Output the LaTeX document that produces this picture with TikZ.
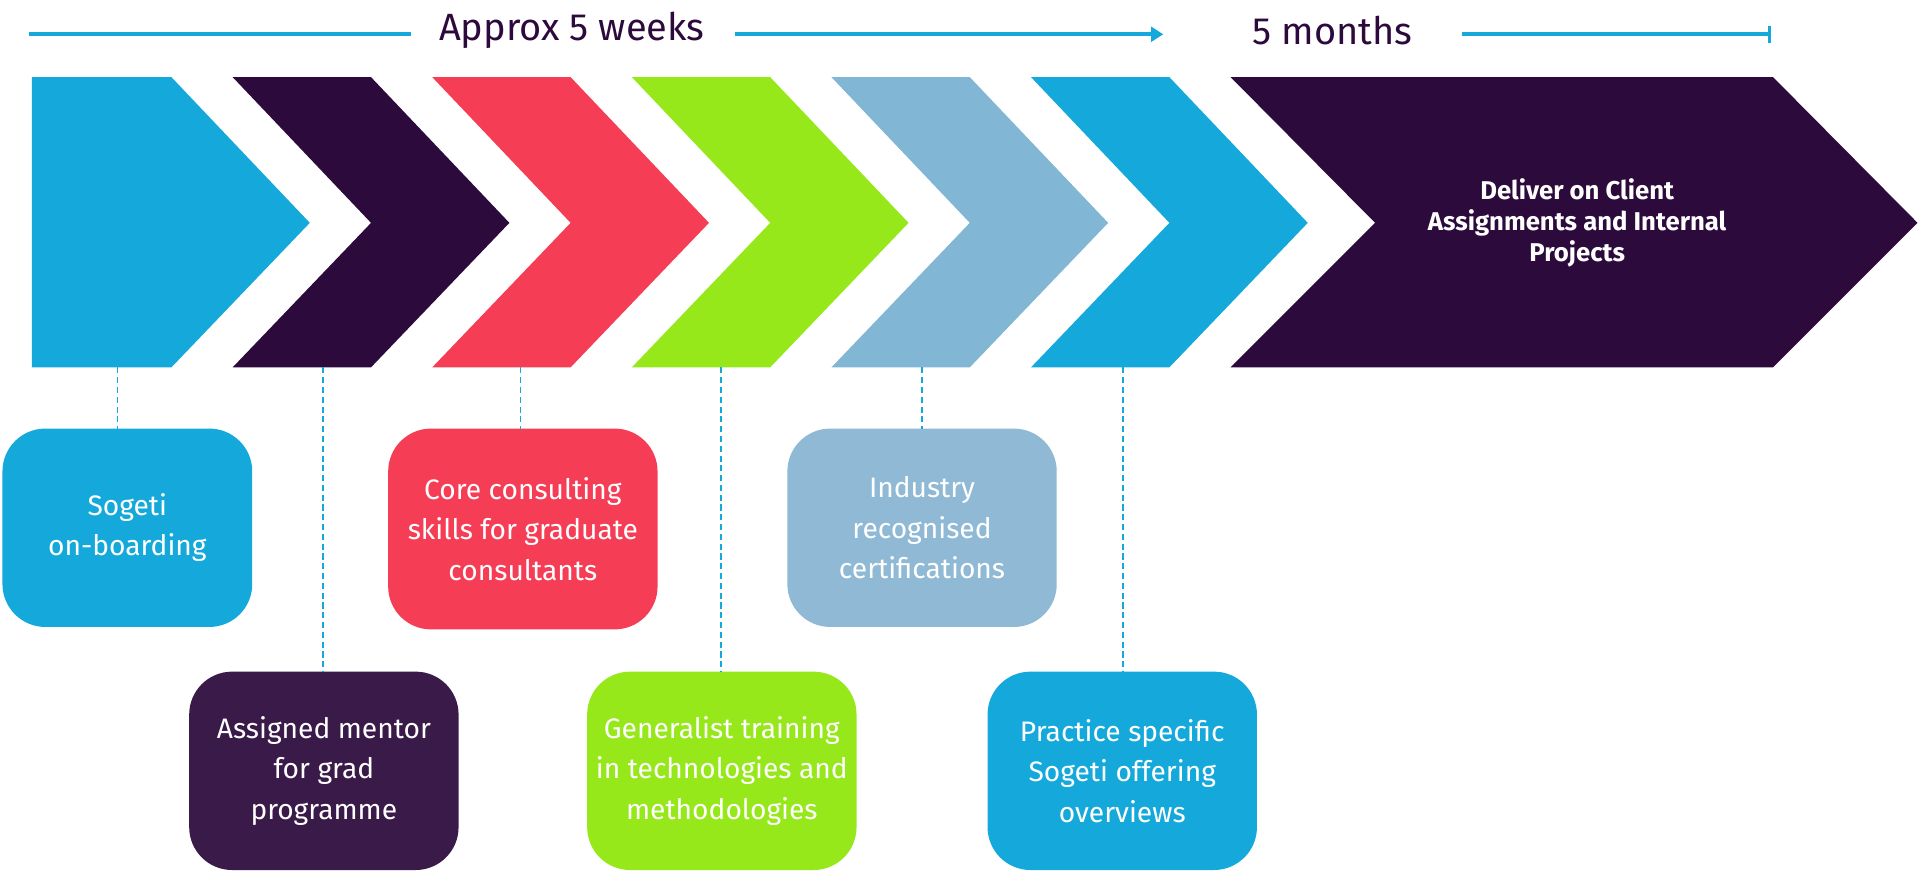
\documentclass[tikz,border=0pt]{standalone}
\usepackage{fontspec}
\setmainfont{Fira Sans}
\usetikzlibrary{arrows.meta}
\definecolor{cy}{HTML}{14A9DA}
\definecolor{dp}{HTML}{2D0A3C}
\definecolor{rd}{HTML}{F53D55}
\definecolor{lm}{HTML}{97E81A}
\definecolor{lb}{HTML}{82B6D5}
\definecolor{lb2}{HTML}{8FB9D4}
\definecolor{dp2}{HTML}{3A1A48}
\begin{document}
\begin{tikzpicture}[x=1pt,y=-1pt,
  box/.style={rounded corners=35pt,minimum width=220pt,minimum height=162pt,align=center,text=white,font=\fontsize{23}{33}\selectfont,inner sep=0pt},
  dl/.style={cy,dash pattern=on 5pt off 3pt,line width=1.3pt},
  tl/.style={cy,line width=3pt}]
\useasboundingbox (0,0) rectangle (1568,728);
% chevrons
\fill[cy] (26,63)--(140,63)--(253,182)--(140,300)--(26,300)--cycle;
\foreach \i/\c in {0/dp,1/rd,2/lm,3/lb,4/cy}{
  \fill[\c,xshift=\i*163pt] (190,63)--(303,63)--(416,182)--(303,300)--(190,300)--(303,182)--cycle;}
\fill[dp] (1005,63)--(1448,63)--(1566,182)--(1448,300)--(1005,300)--(1123,182)--cycle;
\node[text=white,font=\bfseries\fontsize{21}{25}\selectfont,align=center] (d) at (1288,182) {Deliver on Client\\Assignments and Internal\\Projects};
% top
\node[text=dp,font=\fontsize{31}{34}\selectfont] (aw) at (467,25) {Approx 5 weeks};
\node[text=dp,font=\fontsize{31}{34}\selectfont] (fm) at (1088,25) {5 months};
\coordinate (a0) at (24,28); \coordinate (a1) at (336,28);
\coordinate (b0) at (600,28); \coordinate (b1) at (950,28);
\coordinate (c0) at (1194,28); \coordinate (c1) at (1446,28);
\draw[tl] (a0)--(a1);
\draw[tl,-{Triangle[length=10pt,width=12pt]}] (b0)--(b1);
\draw[tl,-{Bar[width=14pt,line width=2pt]}] (c0)--(c1);
% boxes
\node[box,fill=cy,minimum width=204pt] (b1x) at (104,431) {Sogeti\\on-boarding};
\node[box,fill=dp2] (b2x) at (264.5,629.5) {Assigned mentor\\for grad\\programme};
\node[box,fill=rd,minimum height=164pt] (b3x) at (427,432) {Core consulting\\skills for graduate\\consultants};
\node[box,fill=lm] (b4x) at (589.5,629.5) {Generalist training\\in technologies and\\methodologies};
\node[box,fill=lb2] (b5x) at (753,431) {Industry\\recognised\\certifications};
\node[box,fill=cy] (b6x) at (916.5,629.5) {Practice specific\\Sogeti offering\\overviews};
\coordinate (t1) at (96,300); \coordinate (t2) at (264,300); \coordinate (t3) at (425,300);
\coordinate (t4) at (589,300); \coordinate (t5) at (753,300); \coordinate (t6) at (917,300);
\draw[dl] (t1)--(96,350); \draw[dl] (t2)--(264,549); \draw[dl] (t3)--(425,350);
\draw[dl] (t4)--(589,549); \draw[dl] (t5)--(753,350); \draw[dl] (t6)--(917,549);
\end{tikzpicture}
\end{document}
